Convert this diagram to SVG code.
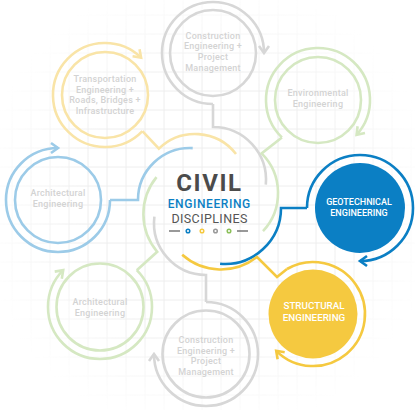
<svg xmlns="http://www.w3.org/2000/svg" width="415" height="410" viewBox="0 0 415 410">
<defs>
<style>
.ln{fill:none;stroke-width:2.6;stroke-linecap:butt;stroke-linejoin:miter}
.gray{stroke:#d7d7d7}
.ylw{stroke:#f9e4a7}
.grn{stroke:#d5e8c2}
.lblu{stroke:#9ccbe8}
.blu{stroke:#0b7fc4}
.sy{stroke:#f5c940}
.lt{font-family:Roboto,"Liberation Sans",sans-serif;font-size:9px;font-weight:500;fill:#d3d3d3;text-anchor:middle;letter-spacing:0.25px}
.wt{font-family:Roboto,"Liberation Sans",sans-serif;font-weight:500;fill:#ffffff;text-anchor:middle}
.ct{font-family:Roboto,"Liberation Sans",sans-serif;text-anchor:middle}
.grid line{stroke:#eeeeee;stroke-width:1}
</style>
<marker id="ah-gray" markerUnits="userSpaceOnUse" markerWidth="20" markerHeight="20" orient="auto" overflow="visible"><path d="M-7,-5 L0,0 L-7,5" fill="none" stroke="#d7d7d7" stroke-width="2.6"/></marker>
<marker id="ah-ylw" markerUnits="userSpaceOnUse" markerWidth="20" markerHeight="20" orient="auto" overflow="visible"><path d="M-7,-5 L0,0 L-7,5" fill="none" stroke="#f9e4a7" stroke-width="2.6"/></marker>
<marker id="ah-grn" markerUnits="userSpaceOnUse" markerWidth="20" markerHeight="20" orient="auto" overflow="visible"><path d="M-7,-5 L0,0 L-7,5" fill="none" stroke="#d5e8c2" stroke-width="2.6"/></marker>
<marker id="ah-lblu" markerUnits="userSpaceOnUse" markerWidth="20" markerHeight="20" orient="auto" overflow="visible"><path d="M-7,-5 L0,0 L-7,5" fill="none" stroke="#9ccbe8" stroke-width="2.6"/></marker>
<marker id="ah-blu" markerUnits="userSpaceOnUse" markerWidth="20" markerHeight="20" orient="auto" overflow="visible"><path d="M-7,-5 L0,0 L-7,5" fill="none" stroke="#0b7fc4" stroke-width="2.6"/></marker>
<marker id="ah-sy" markerUnits="userSpaceOnUse" markerWidth="20" markerHeight="20" orient="auto" overflow="visible"><path d="M-7,-5 L0,0 L-7,5" fill="none" stroke="#f5c940" stroke-width="2.6"/></marker>
<radialGradient id="fade" cx="207" cy="205" r="230" gradientUnits="userSpaceOnUse">
<stop offset="0.55" stop-color="#fff"/><stop offset="1" stop-color="#000"/>
</radialGradient>
<mask id="gridmask"><rect width="415" height="410" fill="url(#fade)"/></mask>
</defs>
<rect width="415" height="410" fill="#ffffff"/>
<g class="grid" mask="url(#gridmask)">
<line x1="12" y1="0" x2="12" y2="410"/><line x1="31" y1="0" x2="31" y2="410"/><line x1="50" y1="0" x2="50" y2="410"/><line x1="69" y1="0" x2="69" y2="410"/><line x1="88" y1="0" x2="88" y2="410"/><line x1="107" y1="0" x2="107" y2="410"/><line x1="126" y1="0" x2="126" y2="410"/><line x1="145" y1="0" x2="145" y2="410"/><line x1="164" y1="0" x2="164" y2="410"/><line x1="183" y1="0" x2="183" y2="410"/><line x1="202" y1="0" x2="202" y2="410"/><line x1="221" y1="0" x2="221" y2="410"/><line x1="240" y1="0" x2="240" y2="410"/><line x1="259" y1="0" x2="259" y2="410"/><line x1="278" y1="0" x2="278" y2="410"/><line x1="297" y1="0" x2="297" y2="410"/><line x1="316" y1="0" x2="316" y2="410"/><line x1="335" y1="0" x2="335" y2="410"/><line x1="354" y1="0" x2="354" y2="410"/><line x1="373" y1="0" x2="373" y2="410"/><line x1="392" y1="0" x2="392" y2="410"/><line x1="411" y1="0" x2="411" y2="410"/>
<line x1="0" y1="15" x2="415" y2="15"/><line x1="0" y1="34" x2="415" y2="34"/><line x1="0" y1="53" x2="415" y2="53"/><line x1="0" y1="72" x2="415" y2="72"/><line x1="0" y1="91" x2="415" y2="91"/><line x1="0" y1="110" x2="415" y2="110"/><line x1="0" y1="129" x2="415" y2="129"/><line x1="0" y1="148" x2="415" y2="148"/><line x1="0" y1="167" x2="415" y2="167"/><line x1="0" y1="186" x2="415" y2="186"/><line x1="0" y1="205" x2="415" y2="205"/><line x1="0" y1="224" x2="415" y2="224"/><line x1="0" y1="243" x2="415" y2="243"/><line x1="0" y1="262" x2="415" y2="262"/><line x1="0" y1="281" x2="415" y2="281"/><line x1="0" y1="300" x2="415" y2="300"/><line x1="0" y1="319" x2="415" y2="319"/><line x1="0" y1="338" x2="415" y2="338"/><line x1="0" y1="357" x2="415" y2="357"/><line x1="0" y1="376" x2="415" y2="376"/><line x1="0" y1="395" x2="415" y2="395"/>
</g>

<g id="connectors">
<path class="ln gray" d="M213,104 L213,127 A53,53 0 0 1 265.8,184.6"/>
<path class="ln gray" d="M154.4,216.7 A52,52 0 0 0 206,275 L206,302"/>
<path class="ln ylw" d="M142.4,131.1 L158.9,148.6 A52,52 0 0 1 236,154"/>
<path class="ln lblu" d="M110,200 L138,200 A52,52 0 0 1 192.7,148.1"/>
<path class="ln grn" d="M281.9,137.4 L261.6,153.4 A56,56 0 0 1 263,231.2"/>
<path class="ln grn" d="M136.8,270.2 L157.2,251.8 A58.6,58.6 0 0 1 156.5,177.1"/>
<path class="ln blu" d="M220.1,263.8 A56,56 0 0 0 281,208 L307,208"/>
<path class="ln sy" d="M182.2,254.8 A58.5,58.5 0 0 0 257,257.1 L277,277 L287,269"/>
</g>

<g id="node-construction-top">
<circle class="ln gray" cx="213" cy="53" r="43"/>
<path class="ln gray" d="M213,104 A51,51 0 1 1 264,53" marker-end="url(#ah-gray)"/>
<text class="lt" x="213" y="38.5">Construction</text>
<text class="lt" x="213" y="49.3">Engineering +</text>
<text class="lt" x="213" y="60">Project</text>
<text class="lt" x="213" y="70.8">Management</text>
</g>

<g id="node-transportation">
<circle class="ln ylw" cx="105" cy="95" r="43"/>
<path class="ln ylw" d="M142.4,131.1 A52,52 0 1 1 141.1,57.6" marker-end="url(#ah-ylw)"/>
<text class="lt" x="105" y="82">Transportation</text>
<text class="lt" x="105" y="92.7">Engineering +</text>
<text class="lt" x="105" y="103.4">Roads, Bridges +</text>
<text class="lt" x="105" y="114.1">Infrastructure</text>
</g>

<g id="node-environmental">
<circle class="ln grn" cx="318" cy="100" r="43"/>
<path class="ln grn" d="M281.9,137.4 A52,52 0 1 1 356.6,134.8" marker-end="url(#ah-grn)"/>
<text class="lt" x="318" y="96">Environmental</text>
<text class="lt" x="318" y="107">Engineering</text>
</g>

<g id="node-architectural-left">
<circle class="ln lblu" cx="58" cy="200" r="43"/>
<path class="ln lblu" d="M110,200 A52,52 0 1 1 58,148" marker-end="url(#ah-lblu)"/>
<text class="lt" x="58" y="196">Architectural</text>
<text class="lt" x="58" y="207">Engineering</text>
</g>

<g id="node-geotechnical">
<circle cx="360" cy="208" r="45" fill="#0b7fc4"/>
<path class="ln blu" d="M307,208 A53,53 0 1 1 360,261" marker-end="url(#ah-blu)"/>
<text class="wt" x="359" y="204.5" font-size="9">GEOTECHNICAL</text>
<text class="wt" x="359" y="215.5" font-size="9">ENGINEERING</text>
</g>

<g id="node-structural">
<circle cx="313" cy="314" r="44.5" fill="#f5c940"/>
<path class="ln sy" d="M287,269 A52,52 0 1 1 276.2,350.8" marker-end="url(#ah-sy)"/>
<text class="wt" x="314" y="309" font-size="9.8">STRUCTURAL</text>
<text class="wt" x="314" y="321" font-size="9.8">ENGINEERING</text>
</g>

<g id="node-architectural-bottom">
<circle class="ln grn" cx="100" cy="307" r="43.5"/>
<path class="ln grn" d="M136.8,270.2 A52,52 0 1 1 63.2,270.2" marker-end="url(#ah-grn)"/>
<text class="lt" x="100" y="305">Architectural</text>
<text class="lt" x="100" y="316">Engineering</text>
</g>

<g id="node-construction-bottom">
<circle class="ln gray" cx="206" cy="354" r="43.5"/>
<path class="ln gray" d="M206,302 A52,52 0 1 1 154,354" marker-end="url(#ah-gray)"/>
<text class="lt" x="206" y="343">Construction</text>
<text class="lt" x="206" y="353.7">Engineering +</text>
<text class="lt" x="206" y="364.4">Project</text>
<text class="lt" x="206" y="375.1">Management</text>
</g>

<g id="node-center">
<text class="ct" x="209.5" y="191" font-size="24" font-weight="700" fill="#4b4b4b" letter-spacing="1.6">CIVIL</text>
<text class="ct" x="209.3" y="208" font-size="12" font-weight="500" fill="#0b7fc4" letter-spacing="0.6">ENGINEERING</text>
<text class="ct" x="209.6" y="222.5" font-size="12.5" font-weight="400" fill="#555555" letter-spacing="0.4">DISCIPLINES</text>
<line x1="169" y1="231" x2="180" y2="231" stroke="#555" stroke-width="1.2"/>
<line x1="237" y1="231" x2="248" y2="231" stroke="#555" stroke-width="1.2"/>
<circle cx="188" cy="231" r="1.8" fill="#fff" stroke="#0b7fc4" stroke-width="1.5"/>
<circle cx="202" cy="231" r="1.8" fill="#fff" stroke="#f5c940" stroke-width="1.5"/>
<circle cx="215.5" cy="231" r="1.8" fill="#fff" stroke="#999999" stroke-width="1.5"/>
<circle cx="229" cy="231" r="1.8" fill="#fff" stroke="#8cc05a" stroke-width="1.5"/>
</g>
</svg>
